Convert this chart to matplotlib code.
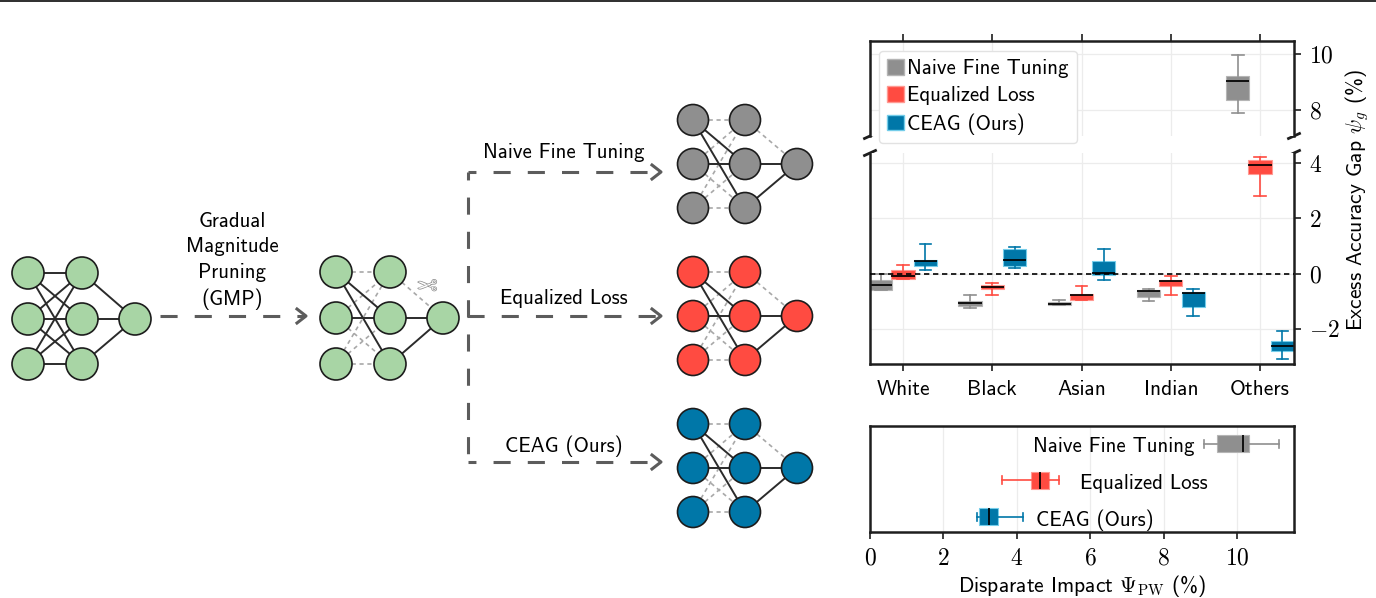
"""Pruning schematic with excess accuracy gap and disparate impact box plots."""

import matplotlib

matplotlib.use("Agg")
import matplotlib.pyplot as plt
from matplotlib.patches import Circle, Patch

plt.rcParams["font.family"] = ["cmss10", "DejaVu Sans"]
plt.rcParams["mathtext.fontset"] = "cm"
plt.rcParams["axes.unicode_minus"] = True

W, H = 1376, 598

GRAY = "#8f8f8f"
RED = "#ff4b41"
BLUE = "#0077a8"
GREEN = "#a8d5a5"
ARROW = "#5c5c5c"
INK = "#1e1e1e"
GRID = "#ececec"
DASHES = (3.0, (5.6, 5.6))
TEXT_SIZE = 15

methods = ["Naive Fine Tuning", "Equalized Loss", "CEAG (Ours)"]
method_colors = [GRAY, RED, BLUE]
edge_colors = ["#b5b5b5", "#ff9a93", "#74cdea"]
groups = ["White", "Black", "Asian", "Indian", "Others"]

# per group: whisker low, q1, median, q3, whisker high
naive_gap = [
    (-0.60, -0.60, -0.41, -0.22, 0.00),
    (-1.25, -1.16, -1.07, -0.98, -0.78),
    (-1.14, -1.14, -1.09, -1.04, -0.97),
    (-0.99, -0.86, -0.64, -0.60, -0.56),
    (7.88, 8.34, 9.04, 9.22, 9.98),
]
equalized_gap = [
    (-0.20, -0.19, -0.10, 0.15, 0.33),
    (-0.78, -0.55, -0.47, -0.40, -0.34),
    (-0.97, -0.95, -0.76, -0.73, -0.44),
    (-0.78, -0.46, -0.27, -0.22, -0.07),
    (2.81, 3.62, 3.94, 4.12, 4.23),
]
ceag_gap = [
    (0.12, 0.27, 0.45, 0.50, 1.09),
    (0.19, 0.27, 0.51, 0.91, 0.96),
    (-0.24, -0.04, 0.02, 0.47, 0.91),
    (-1.55, -1.22, -0.70, -0.67, -0.56),
    (-3.10, -2.79, -2.62, -2.44, -2.07),
]
gap_series = [naive_gap, equalized_gap, ceag_gap]

# whisker low, q1, median, q3, whisker high
impact_stats = [
    (9.10, 9.45, 10.15, 10.33, 11.14),
    (3.60, 4.38, 4.62, 4.87, 5.16),
    (2.92, 2.96, 3.23, 3.48, 4.16),
]

gap_ticks_top = [8, 10]
gap_ticks_low = [-2, 0, 2, 4]
impact_ticks = [0, 2, 4, 6, 8, 10]

# pruned network edges: (layer, node) pairs
kept_edges = [((0, 0), (1, 1)), ((0, 0), (1, 2)), ((0, 1), (1, 1)), ((1, 1), (2, 0)), ((1, 2), (2, 0))]
cut_edges = [
    ((0, 0), (1, 0)), ((0, 1), (1, 0)), ((0, 1), (1, 2)), ((0, 2), (1, 0)),
    ((0, 2), (1, 1)), ((0, 2), (1, 2)), ((1, 0), (2, 0)),
]
full_edges = [((0, a), (1, b)) for a in range(3) for b in range(3)] + [((1, b), (2, 0)) for b in range(3)]


def px_axes(fig, left, top, right, bottom):
    return fig.add_axes([left / W, 1 - bottom / H, (right - left) / W, (bottom - top) / H])


def draw_network(ax, xs, ys, radius, color, solid, dashed=()):
    def pos(node):
        layer, idx = node
        return (xs[layer], ys[1] if layer == 2 else ys[idx])

    for a, b in dashed:
        (x0, y0), (x1, y1) = pos(a), pos(b)
        ax.plot([x0, x1], [y0, y1], color="#a8a8a8", lw=1.2, ls=(0, (2.5, 2.2)), zorder=1)
    for a, b in solid:
        (x0, y0), (x1, y1) = pos(a), pos(b)
        ax.plot([x0, x1], [y0, y1], color="#2b2b2b", lw=1.4, zorder=2)
    nodes = [(0, i) for i in range(3)] + [(1, i) for i in range(3)] + [(2, 0)]
    for node in nodes:
        ax.add_patch(Circle(pos(node), radius, fc=color, ec="#1c1c1c", lw=1.2, zorder=3))


def dashed_arrow(ax, x0, y0, x1, y1, phase=0.0):
    ax.plot([x0, x1 - 2], [y0, y1], color=ARROW, lw=2.2, ls=(phase, DASHES[1]), zorder=1)
    ax.plot([x1 - 10, x1 - 1, x1 - 10], [y1 - 7, y1, y1 + 7], color=ARROW, lw=2.2, zorder=1)


def draw_boxes(ax, stats_rows, positions, color, edge, vert=True, width=0.26):
    stats = [dict(whislo=s[0], q1=s[1], med=s[2], q3=s[3], whishi=s[4], fliers=[]) for s in stats_rows]
    ax.bxp(
        stats, positions=positions, widths=width, orientation="vertical" if vert else "horizontal",
        patch_artist=True, showfliers=False, manage_ticks=False,
        boxprops=dict(facecolor=color, edgecolor=edge, linewidth=0.8),
        medianprops=dict(color="black", linewidth=1.25),
        whiskerprops=dict(color=color, linewidth=1.2),
        capprops=dict(color=color, linewidth=1.2),
    )


def style_spines(ax):
    for side in ax.spines:
        ax.spines[side].set_linewidth(1.8)
        ax.spines[side].set_color(INK)


fig = plt.figure(figsize=(W / 100, H / 100), dpi=100)

canvas = fig.add_axes([0, 0, 1, 1])
canvas.set_xlim(0, W)
canvas.set_ylim(H, 0)
canvas.axis("off")
canvas.plot([0, W], [0.8, 0.8], color=INK, lw=1.3)

draw_network(canvas, [28, 82, 135], [273, 319, 364], 16, GREEN, full_edges)
draw_network(canvas, [336, 390, 443], [272, 318, 364], 16, GREEN, kept_edges, cut_edges)
for color, ys in zip(method_colors, [[120, 164, 208], [272, 316, 360], [424, 468, 512]]):
    draw_network(canvas, [693, 745, 797], ys, 15.5, color, kept_edges, cut_edges)

dashed_arrow(canvas, 160, 316, 307, 316)
dashed_arrow(canvas, 467, 316, 662, 316)
canvas.plot([468, 468], [172, 466], color=ARROW, lw=2.2, ls=(DASHES[0], DASHES[1]), zorder=1)
dashed_arrow(canvas, 468, 172, 662, 172, phase=DASHES[0])
dashed_arrow(canvas, 468, 462, 662, 462, phase=DASHES[0])

canvas.text(232, 261, "Gradual\nMagnitude\nPruning\n(GMP)", ha="center", va="center",
            fontsize=TEXT_SIZE, linespacing=1.43)
canvas.text(564, 152.5, methods[0], ha="center", va="center", fontsize=TEXT_SIZE)
canvas.text(564, 299, methods[1], ha="center", va="center", fontsize=TEXT_SIZE)
canvas.text(564, 446, methods[2], ha="center", va="center", fontsize=TEXT_SIZE)
canvas.text(427, 281, "\u2704", ha="center", va="center", fontsize=18, color="#8a8a8a",
            rotation=180, family="DejaVu Sans")

ax_top = px_axes(fig, 870, 41, 1294, 136)
ax_low = px_axes(fig, 870, 153, 1294, 364)
ax_imp = px_axes(fig, 870, 426, 1294, 532)

offsets = [-0.25, 0.0, 0.25]
for ax in (ax_top, ax_low):
    for rows, color, edge, off in zip(gap_series, method_colors, edge_colors, offsets):
        draw_boxes(ax, rows, [i + off for i in range(len(groups))], color, edge)
    ax.set_xlim(-0.37, 4.38)
    ax.grid(True, color=GRID, lw=0.9)
    ax.set_axisbelow(True)
    ax.yaxis.tick_right()
    ax.set_xticks(range(len(groups)))
    style_spines(ax)
    ax.tick_params(width=1.2, length=5, color=INK, labelsize=17)
    ax.tick_params(axis="y", pad=6)

ax_top.set_ylim(7.05, 10.48)
ax_low.set_ylim(-3.27, 4.37)
ax_top.set_yticks(gap_ticks_top, [f"${v}$" for v in gap_ticks_top])
ax_low.set_yticks(gap_ticks_low, [f"${v}$" for v in gap_ticks_low])
ax_top.spines["bottom"].set_visible(False)
ax_low.spines["top"].set_visible(False)
ax_top.xaxis.tick_top()
ax_top.tick_params(axis="x", labeltop=False)
ax_low.set_xticklabels(groups, fontsize=TEXT_SIZE + 0.4)
ax_low.tick_params(axis="x", pad=6.5)
ax_low.axhline(0, color="black", lw=1.2, ls=(0, (3.2, 2.2)), zorder=5)

# break marks on both spines
for x in (870, 1294):
    for y in (136, 153):
        canvas.plot([x - 5.5, x + 5.5], [y + 2.5, y - 2.5], color=INK, lw=2.0, zorder=6, clip_on=False)

canvas.text(1357, 200, r"Excess Accuracy Gap $\psi_g$ (%)", rotation=90, ha="center", va="center",
            fontsize=15.5)

legend = fig.legend(
    [Patch(facecolor=c, edgecolor=e) for c, e in zip(method_colors, edge_colors)], methods,
    loc="upper left", bbox_to_anchor=(879 / W, 1 - 51 / H), bbox_transform=fig.transFigure,
    fontsize=TEXT_SIZE, handlelength=0.78, handleheight=0.78, handletextpad=0.16, labelspacing=0.38,
    borderaxespad=0, framealpha=1, edgecolor="#e2e2e2",
)
legend.set_zorder(10)

for row, color, edge, pos in zip(impact_stats, method_colors, edge_colors, [2, 1, 0]):
    draw_boxes(ax_imp, [row], [pos], color, edge, vert=False, width=0.46)
ax_imp.set_xlim(0, 11.55)
ax_imp.set_ylim(-0.42, 2.49)
ax_imp.set_yticks([])
ax_imp.set_xticks(impact_ticks, [f"${v}$" for v in impact_ticks])
ax_imp.grid(True, axis="x", color=GRID, lw=0.9)
ax_imp.set_axisbelow(True)
ax_imp.tick_params(width=1.2, length=5, color=INK, labelsize=17, pad=6.5)
style_spines(ax_imp)
ax_imp.set_xlabel(r"Disparate Impact $\Psi_{\mathrm{PW}}$ (%)", fontsize=15.5, labelpad=2)

ax_imp.text(8.83, 1.92, methods[0], ha="right", va="center", fontsize=TEXT_SIZE)
ax_imp.text(5.72, 0.92, methods[1], ha="left", va="center", fontsize=TEXT_SIZE)
ax_imp.text(4.52, -0.1, methods[2], ha="left", va="center", fontsize=TEXT_SIZE)

fig.savefig("out.png", dpi=100)
plt.close(fig)
